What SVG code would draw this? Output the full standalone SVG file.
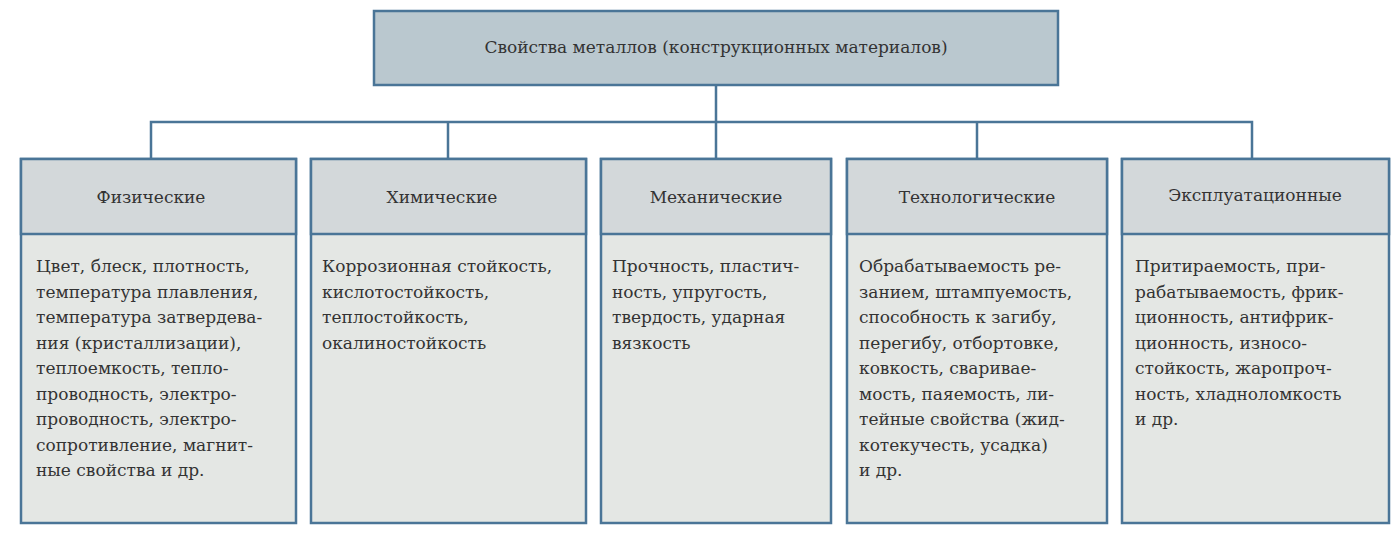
<svg xmlns="http://www.w3.org/2000/svg" width="1400" height="539" viewBox="0 0 1400 539">
<style>
.b{stroke:#4a7597;stroke-width:2.5}
.top{fill:#bac8cf}
.h{fill:#d3d8da}
.bd{fill:#e4e7e4}
text{font-family:"DejaVu Serif","Liberation Serif",serif;font-size:17px;fill:#333}
.c{text-anchor:middle}
.l{fill:none;stroke:#4a7597;stroke-width:2.5}
</style>
<rect width="1400" height="539" fill="#fff"/>
<g id="connectors">
<path class="l" d="M716 85V122M151 159V122H1252V159M448 122V159M716 122V159M977 122V159"/>
</g>
<g id="root"><rect class="b top" x="374" y="11" width="684" height="74"/><text class="c" x="716" y="53">Свойства металлов (конструкционных материалов)</text></g>
<g id="n1"><rect class="b bd" x="21" y="159" width="275" height="364"/><rect class="b h" x="21" y="159" width="275" height="75"/><text class="c" x="151" y="203">Физические</text>
<text x="36" y="272">Цвет, блеск, плотность,<tspan x="36" dy="25.5">температура плавления,</tspan><tspan x="36" dy="25.5">температура затвердева-</tspan><tspan x="36" dy="25.5">ния (кристаллизации),</tspan><tspan x="36" dy="25.5">теплоемкость, тепло-</tspan><tspan x="36" dy="25.5">проводность, электро-</tspan><tspan x="36" dy="25.5">проводность, электро-</tspan><tspan x="36" dy="25.5">сопротивление, магнит-</tspan><tspan x="36" dy="25.5">ные свойства и др.</tspan></text></g>
<g id="n2"><rect class="b bd" x="311" y="159" width="275" height="364"/><rect class="b h" x="311" y="159" width="275" height="75"/><text class="c" x="442" y="203">Химические</text>
<text x="322" y="272">Коррозионная стойкость,<tspan x="322" dy="25.5">кислотостойкость,</tspan><tspan x="322" dy="25.5">теплостойкость,</tspan><tspan x="322" dy="25.5">окалиностойкость</tspan></text></g>
<g id="n3"><rect class="b bd" x="601" y="159" width="230" height="364"/><rect class="b h" x="601" y="159" width="230" height="75"/><text class="c" x="716" y="203">Механические</text>
<text x="612" y="272">Прочность, пластич-<tspan x="612" dy="25.5">ность, упругость,</tspan><tspan x="612" dy="25.5">твердость, ударная</tspan><tspan x="612" dy="25.5">вязкость</tspan></text></g>
<g id="n4"><rect class="b bd" x="847" y="159" width="260" height="364"/><rect class="b h" x="847" y="159" width="260" height="75"/><text class="c" x="977" y="203">Технологические</text>
<text x="859" y="272">Обрабатываемость ре-<tspan x="859" dy="25.5">занием, штампуемость,</tspan><tspan x="859" dy="25.5">способность к загибу,</tspan><tspan x="859" dy="25.5">перегибу, отбортовке,</tspan><tspan x="859" dy="25.5">ковкость, свариваe-</tspan><tspan x="859" dy="25.5">мость, паяемость, ли-</tspan><tspan x="859" dy="25.5">тейные свойства (жид-</tspan><tspan x="859" dy="25.5">котекучесть, усадка)</tspan><tspan x="859" dy="25.5">и др.</tspan></text></g>
<g id="n5"><rect class="b bd" x="1122" y="159" width="267" height="364"/><rect class="b h" x="1122" y="159" width="267" height="75"/><text class="c" x="1255" y="201">Эксплуатационные</text>
<text x="1135" y="272">Притираемость, при-<tspan x="1135" dy="25.5">рабатываемость, фрик-</tspan><tspan x="1135" dy="25.5">ционность, антифрик-</tspan><tspan x="1135" dy="25.5">ционность, износо-</tspan><tspan x="1135" dy="25.5">стойкость, жаропроч-</tspan><tspan x="1135" dy="25.5">ность, хладноломкость</tspan><tspan x="1135" dy="25.5">и др.</tspan></text></g>
</svg>
